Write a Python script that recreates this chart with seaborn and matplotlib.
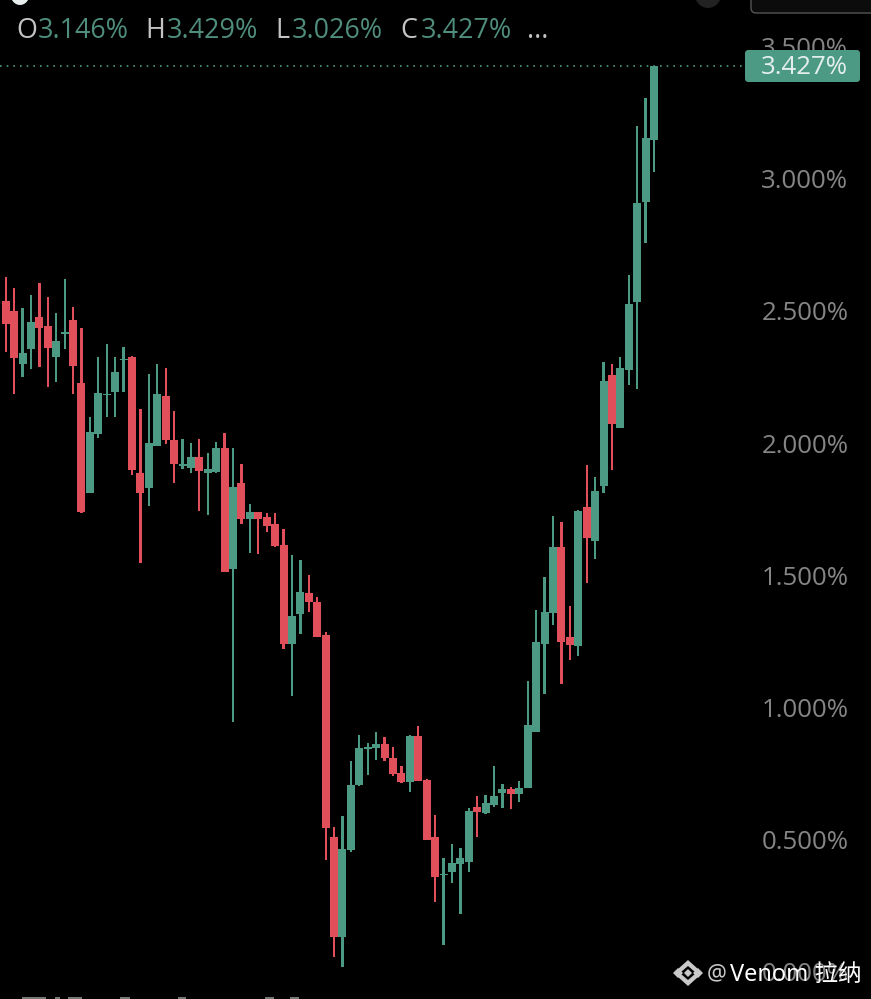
import pandas as pd
import seaborn as sns
import matplotlib.pyplot as plt
from matplotlib.patches import FancyBboxPatch, Polygon, Circle, Rectangle

GREEN = '#4c9a84'
RED = '#e1505a'

opens = [2.538, 2.500, 2.299, 2.356, 2.477, 2.443, 2.326, 2.413, 2.466, 2.227,
         1.811, 2.034, 2.182, 2.193, 2.314, 2.326, 1.886, 1.830, 1.989, 2.178,
         2.011, 1.913, 1.905, 1.947, 1.886, 1.890, 1.981, 1.523, 1.848, 1.712,
         1.739, 1.720, 1.693, 1.614, 1.239, 1.352, 1.432, 1.398, 1.273, 0.508,
         0.129, 0.458, 0.705, 0.841, 0.845, 0.860, 0.807, 0.750, 0.716, 0.890,
         0.723, 0.508, 0.364, 0.375, 0.405, 0.413, 0.621, 0.598, 0.629, 0.674,
         0.689, 0.670, 0.693, 0.905, 1.239, 1.356, 1.606, 1.265, 1.231, 1.758,
         1.629, 1.837, 2.258, 2.057, 2.277, 2.534, 2.913, 3.146]
highs = [2.629, 2.587, 2.511, 2.561, 2.606, 2.553, 2.492, 2.621, 2.515, 2.436,
         2.098, 2.326, 2.375, 2.326, 2.364, 2.330, 2.129, 2.261, 2.299, 2.284,
         2.121, 2.015, 2.000, 2.015, 1.962, 2.004, 2.038, 1.981, 1.920, 1.769,
         1.739, 1.735, 1.735, 1.674, 1.576, 1.557, 1.500, 1.417, 1.284, 0.545,
         0.587, 0.795, 0.894, 0.864, 0.905, 0.886, 0.848, 0.777, 0.894, 0.928,
         0.727, 0.591, 0.428, 0.481, 0.466, 0.617, 0.663, 0.667, 0.777, 0.708,
         0.697, 0.720, 1.098, 1.367, 1.492, 1.723, 1.701, 1.383, 1.746, 1.917,
         1.871, 2.307, 2.299, 2.326, 2.636, 3.201, 3.307, 3.429]
lows = [2.345, 2.186, 2.250, 2.280, 2.288, 2.212, 2.231, 2.356, 2.186, 1.735,
        1.811, 2.019, 2.098, 2.098, 2.193, 1.879, 1.545, 1.761, 1.989, 1.996,
        1.848, 1.902, 1.886, 1.742, 1.727, 1.886, 1.511, 0.943, 1.693, 1.583,
        1.580, 1.663, 1.606, 1.220, 1.042, 1.277, 1.360, 1.265, 0.420, 0.053,
        0.015, 0.451, 0.701, 0.742, 0.799, 0.795, 0.739, 0.712, 0.678, 0.720,
        0.496, 0.261, 0.098, 0.333, 0.216, 0.375, 0.508, 0.595, 0.621, 0.617,
        0.614, 0.640, 0.693, 0.905, 1.049, 1.311, 1.087, 1.178, 1.193, 1.470,
        1.561, 1.811, 1.898, 2.057, 2.220, 2.205, 2.758, 3.026]
closes = [2.451, 2.322, 2.341, 2.458, 2.436, 2.360, 2.386, 2.420, 2.292, 1.739,
          2.042, 2.189, 2.186, 2.269, 2.318, 1.898, 1.811, 2.000, 2.186, 2.011,
          1.920, 1.920, 1.947, 1.894, 1.902, 1.981, 1.511, 1.833, 1.712, 1.739,
          1.712, 1.686, 1.610, 1.239, 1.345, 1.436, 1.398, 1.265, 0.542, 0.129,
          0.462, 0.705, 0.845, 0.848, 0.860, 0.807, 0.746, 0.716, 0.890, 0.720,
          0.496, 0.356, 0.367, 0.409, 0.428, 0.606, 0.602, 0.636, 0.663, 0.689,
          0.670, 0.693, 0.932, 1.246, 1.360, 1.606, 1.246, 1.235, 1.742, 1.640,
          1.818, 2.235, 2.072, 2.284, 2.527, 2.909, 3.155, 3.427]
y_ticks = [0.0, 0.5, 1.0, 1.5, 2.0, 2.5, 3.0, 3.5]
last_price = 3.427

df = pd.DataFrame({'i': range(len(opens)), 'o': opens, 'h': highs, 'l': lows, 'c': closes})
df['top'] = df[['o', 'c']].max(axis=1)
df['bot'] = df[['o', 'c']].min(axis=1)
df['body'] = df['top'] - df['bot']
df['wick'] = df['h'] - df['l']

sns.set_theme(style='dark', rc={'axes.facecolor': 'black', 'figure.facecolor': 'black'})
plt.rcParams['font.family'] = ['Open Sans', 'DejaVu Sans']

fig = plt.figure(figsize=(8.71, 9.99), dpi=100)
ax = fig.add_axes([0, 0, 1, 1])

# candles, wicks first then bodies
for is_up, color in [(True, GREEN), (False, RED)]:
    part = df[(df['c'] >= df['o']) == is_up]
    sns.barplot(data=part, x='i', y='wick', bottom=part['l'], native_scale=True, width=0.27,
                color=color, saturation=1, errorbar=None, linewidth=0, ax=ax)
    sns.barplot(data=part, x='i', y='body', bottom=part['bot'], native_scale=True, width=0.95,
                color=color, saturation=1, errorbar=None, linewidth=0, ax=ax)

ax.set_xlim(-0.677, 102.77)
ax.set_ylim(-0.106, 3.678)
ax.set_xlabel('')
ax.set_ylabel('')
ax.set_xticks([])
ax.grid(False)
for s in ax.spines.values():
    s.set_visible(False)

ax.set_yticks(y_ticks)
ax.set_yticklabels([f'{t:.3f}%' for t in y_ticks])
ax.yaxis.tick_right()
ax.tick_params(axis='y', length=0, pad=-79, labelsize=18.6, labelcolor='#858585')

# last price line and tag
ax.axhline(last_price, xmax=745 / 871, color=GREEN, lw=1.2, ls=(0, (1, 3)))


def fx(x):
    return x / 871


def fy(y):
    return 1 - y / 999


tag = FancyBboxPatch((fx(745), fy(82)), 115 / 871, 32 / 999, boxstyle='round,pad=0,rounding_size=0.004',
                     transform=ax.transAxes, facecolor=GREEN, edgecolor='none', zorder=6, mutation_aspect=871 / 999)
ax.add_patch(tag)
ax.text(fx(761), fy(68), '3.427%', transform=ax.transAxes, color='#e4efec', fontsize=18.6,
        va='center', ha='left', zorder=7)

# OHLC header
header = [(16, 'O', '#c4c4c4'), (38, '3.146%', '#4f8d7c'), (145, 'H', '#c4c4c4'), (167, '3.429%', '#4f8d7c'),
          (275, 'L', '#c4c4c4'), (292, '3.026%', '#4f8d7c'), (400, 'C', '#c4c4c4'), (421, '3.427%', '#4f8d7c'),
          (527, '...', '#c4c4c4')]
for x, s, c in header:
    ax.text(fx(x), fy(31), s, transform=ax.transAxes, color=c, fontsize=19.4, va='center', ha='left')

# cut off bits along the top edge
ax.add_patch(Circle((fx(20), fy(-6)), 0.011, transform=ax.transAxes, facecolor='#e8eeee', edgecolor='none'))
ax.add_patch(Circle((fx(708), fy(-8)), 0.016, transform=ax.transAxes, facecolor='#222222', edgecolor='none'))
ax.add_patch(FancyBboxPatch((fx(751), fy(13)), 140 / 871, 30 / 999, boxstyle='round,pad=0,rounding_size=0.006',
                            transform=ax.transAxes, facecolor='#0c0c0c', edgecolor='#555555', lw=1,
                            mutation_aspect=871 / 999))

# tops of the cut off date labels along the bottom edge
for a, w in [(22, 24), (55, 5), (68, 14), (120, 10), (178, 8), (265, 9), (290, 9)]:
    ax.add_patch(Rectangle((fx(a), 0), w / 871, 2 / 999, transform=ax.transAxes, facecolor='#777777',
                           edgecolor='none'))

# watermark
wm = '#c9c9c9'
for pts in [[(673, 973), (678, 968), (683, 973), (678, 978)],
            [(693, 973), (698, 968), (703, 973), (698, 978)],
            [(684, 973), (688, 969), (692, 973), (688, 977)],
            [(688, 960), (698, 969), (695, 972), (688, 966), (681, 972), (678, 969)],
            [(688, 986), (698, 977), (695, 974), (688, 980), (681, 974), (678, 977)]]:
    ax.add_patch(Polygon([(fx(a), fy(b)) for a, b in pts], transform=ax.transAxes,
                         facecolor=wm, edgecolor='none', zorder=8))
ax.text(fx(707), fy(974), '@', transform=ax.transAxes, color=wm, fontsize=16, va='center', ha='left', zorder=8,
        family=['Noto Sans', 'Noto Sans CJK SC'])
ax.text(fx(730), fy(975), 'Venom 拉纳', transform=ax.transAxes, color='white', fontsize=17, va='center',
        ha='left', zorder=8, family=['Noto Sans', 'Noto Sans CJK SC'])

fig.savefig('out.png', dpi=100, facecolor='black')
